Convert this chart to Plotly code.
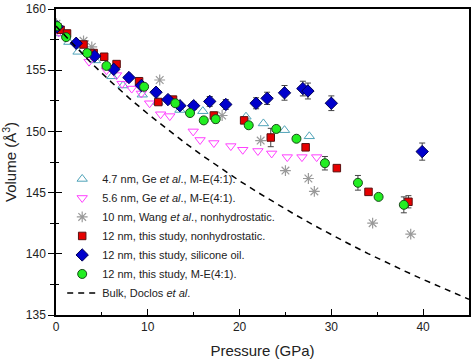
import plotly.graph_objects as go

# 4.7 nm, Ge et al., M-E(4:1)
p_ge47 = [0.3, 1.4, 2.4, 4.3, 6.1, 7.3, 9.4, 11.1, 13.5, 16.0, 20.7, 22.6, 24.9, 27.6]
v_ge47 = [158.0, 157.3, 156.5, 155.8, 154.5, 153.75, 153.0, 152.4, 151.75, 151.65, 151.2, 150.65, 150.1, 149.6]

# 5.6 nm, Ge et al., M-E(4:1)
p_ge56 = [0.3, 3.6, 5.5, 6.6, 7.2, 8.25, 9.3, 10.2, 11.4, 12.4, 14.95, 15.7, 17.2, 19.05, 20.35, 22.0, 23.5, 25.2, 26.8, 28.4]
v_ge56 = [158.1, 155.7, 155.0, 154.6, 153.9, 153.5, 153.1, 152.3, 151.4, 151.25, 150.0, 149.3, 149.05, 148.8, 148.5, 148.4, 148.2, 147.9, 147.9, 147.9]

# 10 nm, Wang et al., nonhydrostatic
p_wang = [0.05, 3.0, 3.9, 11.3, 18.1, 22.3, 25.0, 27.5, 28.15, 34.5, 38.65]
v_wang = [158.8, 157.4, 156.9, 154.2, 151.3, 149.25, 146.8, 146.15, 145.1, 142.5, 141.6]

# 12 nm, this study, nonhydrostatic
p_nh = [0.5, 1.2, 3.0, 4.1, 5.25, 6.6, 9.05, 11.15, 12.75, 17.2, 20.5, 23.4, 27.2, 30.6, 34.05, 38.4]
v_nh = [158.3, 158.0, 157.1, 156.4, 156.1, 155.5, 154.1, 152.4, 152.6, 151.3, 150.9, 149.5, 148.7, 147.0, 145.06, 144.25]
e_nh = [0.1, 0.1, 0.1, 0.1, 0.1, 0.1, 0.1, 0.1, 0.15, 0.25, 0.2, 0.75, 0.2, 0.15, 0.15, 0.5]

# 12 nm, this study, silicone oil
p_so = [0.13, 2.2, 4.2, 6.3, 7.95, 9.3, 10.9, 12.2, 13.5, 15.0, 16.75, 18.5, 21.8, 23.0, 24.9, 26.9, 27.45, 30.0, 39.9]
v_so = [158.55, 157.2, 156.15, 155.07, 154.4, 153.75, 153.2, 152.6, 152.1, 152.1, 152.45, 152.2, 152.3, 152.7, 153.15, 153.5, 153.3, 152.3, 148.35]
e_so = [0.1, 0.1, 0.1, 0.15, 0.15, 0.15, 0.2, 0.2, 0.25, 0.3, 0.4, 0.4, 0.45, 0.5, 0.6, 0.6, 0.65, 0.6, 0.7]

# 12 nm, this study, M-E(4:1)
p_me = [0.13, 1.1, 3.4, 5.5, 9.6, 13.0, 14.6, 16.1, 17.4, 21.0, 24.0, 26.2, 29.3, 32.9, 35.15, 37.9]
v_me = [158.6, 157.7, 156.4, 155.35, 153.65, 152.3, 151.5, 150.9, 151.0, 150.5, 150.2, 149.4, 147.4, 145.8, 144.65, 144.0]
e_me = [0.15, 0.15, 0.15, 0.15, 0.15, 0.15, 0.15, 0.15, 0.3, 0.15, 0.15, 0.15, 0.55, 0.6, 0.15, 0.65]

# Bulk, Doclos et al.
p_bulk = [0, 2, 4, 6, 8, 10, 12, 14, 16, 18, 20, 22, 24, 26, 28, 30, 32, 34, 36, 38, 40, 42, 44, 45]
v_bulk = [158.6, 156.99, 155.47, 154.05, 152.70, 151.44, 150.23, 149.09, 148.0, 146.96, 145.96, 145.01,
          144.10, 143.22, 142.37, 141.56, 140.78, 140.02, 139.29, 138.59, 137.90, 137.24, 136.60, 136.28]

FONT = "Liberation Sans, Arial, sans-serif"
ebar = dict(type="data", visible=True, color="#444444", thickness=1, width=3)

fig = go.Figure()

fig.add_trace(go.Scatter(
    x=p_ge47, y=v_ge47, mode="markers", name="4.7 nm, Ge <i>et al</i>., M-E(4:1).",
    marker=dict(symbol="triangle-up-open", size=9, color="#4fa3b8", line=dict(width=1))))
fig.add_trace(go.Scatter(
    x=p_ge56, y=v_ge56, mode="markers", name="5.6 nm, Ge <i>et al</i>., M-E(4:1).",
    marker=dict(symbol="triangle-down-open", size=9, color="#ff40ff", line=dict(width=1))))
fig.add_trace(go.Scatter(
    x=p_wang, y=v_wang, mode="markers", name="10 nm, Wang <i>et al</i>., nonhydrostatic.",
    marker=dict(symbol="asterisk-open", size=9, color="#9a9a9a", line=dict(width=1.2, color="#9a9a9a"))))
fig.add_trace(go.Scatter(
    x=p_nh, y=v_nh, mode="markers", name="12 nm, this study, nonhydrostatic.",
    error_y=dict(array=e_nh, **ebar),
    marker=dict(symbol="square", size=7.5, color="#e60000", line=dict(width=1, color="#5a1010"))))
fig.add_trace(go.Scatter(
    x=p_so, y=v_so, mode="markers", name="12 nm, this study, silicone oil.",
    error_y=dict(array=e_so, **ebar),
    marker=dict(symbol="diamond", size=9.5, color="#0000cc", line=dict(width=1, color="#000055"))))
fig.add_trace(go.Scatter(
    x=p_me, y=v_me, mode="markers", name="12 nm, this study, M-E(4:1).",
    error_y=dict(array=e_me, **ebar),
    marker=dict(symbol="circle", size=9, color="#22ee22", line=dict(width=1, color="#1a4a1a"))))
fig.add_trace(go.Scatter(
    x=p_bulk, y=v_bulk, mode="lines", name="Bulk, Doclos <i>et al</i>.",
    line=dict(color="black", width=1.5, dash="6px,5px")))

axis_common = dict(showline=True, linecolor="black", linewidth=1.5, mirror=True,
                   showgrid=False, zeroline=False,
                   tickfont=dict(family=FONT, size=12, color="#222222"),
                   tickcolor="black", tickwidth=1.3)

fig.update_layout(
    width=474, height=363,
    margin=dict(l=56, r=5, t=9, b=48),
    paper_bgcolor="white", plot_bgcolor="white",
    font=dict(family=FONT, color="#222222"),
    showlegend=True,
    legend=dict(x=0.015, y=0.492, xanchor="left", yanchor="top",
                bgcolor="rgba(0,0,0,0)", borderwidth=0,
                font=dict(family=FONT, size=11, color="#222222"),
                tracegroupgap=0),
    xaxis=dict(range=[0, 45], dtick=10, tick0=0, ticks="inside", ticklen=6,
               minor=dict(dtick=5, ticks="inside", ticklen=3, tickcolor="black"),
               title=dict(text="Pressure (GPa)", font=dict(family=FONT, size=15, color="#222222"), standoff=12),
               automargin=False, **axis_common),
    yaxis=dict(range=[135, 160], dtick=5, tick0=135, ticks="outside", ticklen=6,
               minor=dict(dtick=2.5, ticks="outside", ticklen=4, tickcolor="black"),
               title=dict(text="Volume (Å<sup>3</sup>)", font=dict(family=FONT, size=15, color="#222222"), standoff=8),
               automargin=False, **axis_common),
    yaxis2=dict(range=[135, 160], dtick=5, tick0=135, ticks="inside", ticklen=6,
                overlaying="y", side="left", showticklabels=False, showline=False,
                showgrid=False, zeroline=False, tickcolor="black", tickwidth=1.3,
                minor=dict(dtick=2.5, ticks="inside", ticklen=3, tickcolor="black")),
)

# helper trace (no data) that activates the inner-tick copy of the y axis
fig.add_trace(go.Scatter(x=[None], y=[None], yaxis="y2", showlegend=False, hoverinfo="skip"))

fig.write_html("out.html")
